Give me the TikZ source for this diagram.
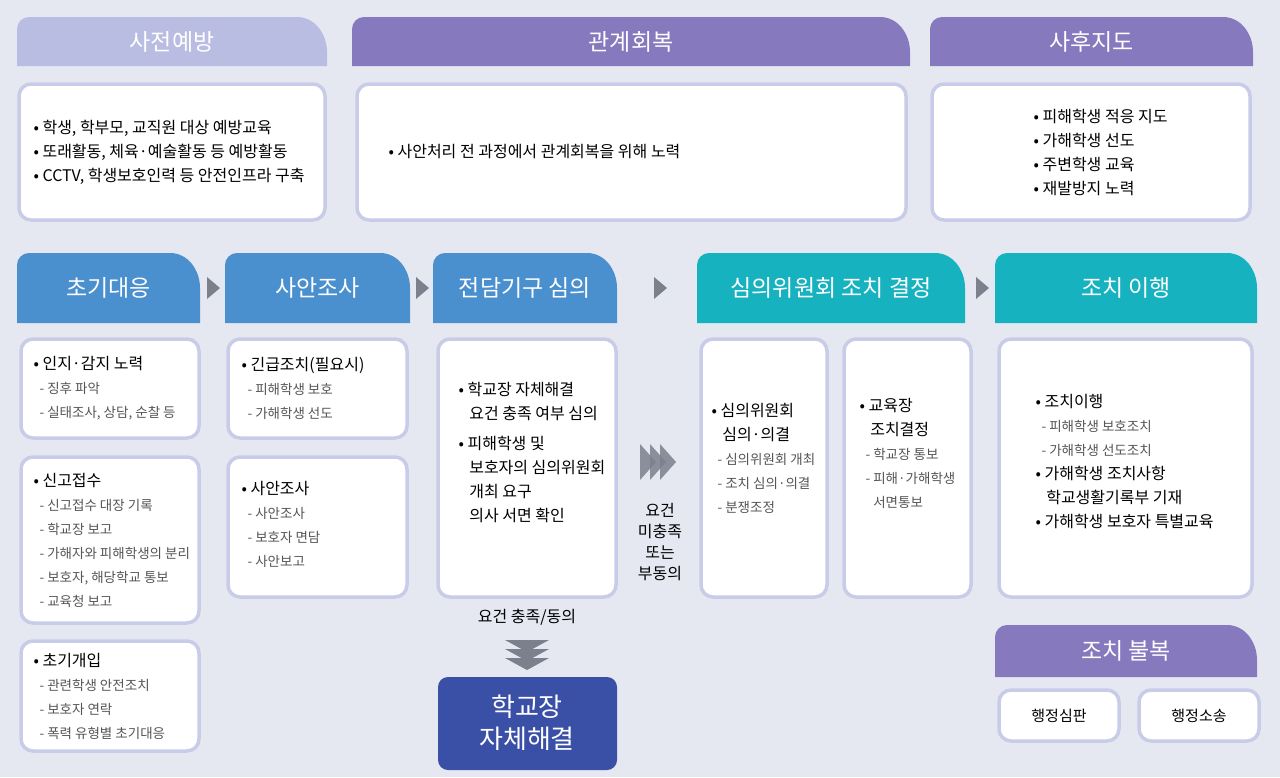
\documentclass[tikz,border=0pt]{standalone}
\usepackage{fontspec}
\setmainfont{Noto Sans CJK KR}
\newfontfamily\kr{Noto Sans CJK KR}
\definecolor{bgc}{HTML}{E6E8F1}
\definecolor{edgec}{HTML}{C9CCE8}
\definecolor{lav}{HTML}{B9BDE2}
\definecolor{purp}{HTML}{8679BD}
\definecolor{bluec}{HTML}{4A8FCE}
\definecolor{tealc}{HTML}{16B2BF}
\definecolor{navy}{HTML}{3A4FA6}
\definecolor{arrc}{HTML}{7C7F8C}
\definecolor{subc}{HTML}{555555}
\newcommand{\sub}[1]{{\fontsize{13.5}{20}\selectfont\color{subc}\ \ - #1}}
\newcommand{\tabbox}[6]{% x1 y1 x2 y2 colour text
  \fill[#5] (#1,#4) -- (#1,#2+12) to[out=90,in=180] (#1+12,#2) -- (#3-30,#2)
    to[out=0,in=90] (#3,#2+35) -- (#3,#4) -- cycle;
  \node[tabtext] at ({(#1+#3)/2},{(#2+#4)/2}) {#6};}
\tikzset{
  box/.style={draw=edgec, line width=3.5pt, fill=white, rounded corners=12pt},
  tabtext/.style={text=white, font=\fontsize{23}{26}\selectfont},
  body/.style={anchor=west, align=left, font=\fontsize{16}{24}\selectfont, text=black},
  play/.style={fill=arrc}
}
\begin{document}
\begin{tikzpicture}[x=1pt,y=-1pt]
\useasboundingbox (0,0) rectangle (1280,777);
\fill[bgc] (0,0) rectangle (1280,777);
% top row
\tabbox{17}{17}{327}{66}{lav}{사전예방}
\tabbox{352}{17}{910}{66}{purp}{관계회복}
\tabbox{930}{17}{1253}{66}{purp}{사후지도}
\draw[box] (19,84) rectangle (325,220);
\node[body] (prev) at (30,152) {• 학생, 학부모, 교직원 대상 예방교육\\• 또래활동, 체육·예술활동 등 예방활동\\• CCTV, 학생보호인력 등 안전인프라 구축};
\draw[box] (357,84) rectangle (906,220);
\node[body] (rest) at (385,152) {• 사안처리 전 과정에서 관계회복을 위해 노력};
\draw[box] (932,84) rectangle (1250,220);
\node[body] (post) at (1030,152) {• 피해학생 적응 지도\\• 가해학생 선도\\• 주변학생 교육\\• 재발방지 노력};
% second row tabs
\tabbox{17}{253}{200}{323}{bluec}{초기대응}
\tabbox{225}{253}{410}{323}{bluec}{사안조사}
\tabbox{433}{253}{617}{323}{bluec}{전담기구 심의}
\tabbox{697}{253}{965}{323}{tealc}{심의위원회 조치 결정}
\tabbox{995}{253}{1257}{323}{tealc}{조치 이행}
\foreach \ax in {213,422,660,982}
  \fill[play] (\ax-6,277) -- (\ax+7,288) -- (\ax-6,299) -- cycle;
% initial response
\draw[box] (21,339) rectangle (199,438);
\node[body] (init1) at (30,388) {• 인지·감지 노력\\\sub{징후 파악}\\\sub{실태조사, 상담, 순찰 등}};
\draw[box] (21,457) rectangle (199,623);
\node[body] (init2) at (30,540) {• 신고접수\\\sub{신고접수 대장 기록}\\\sub{학교장 보고}\\\sub{가해자와 피해학생의 분리}\\\sub{보호자, 해당학교 통보}\\\sub{교육청 보고}};
\draw[box] (21,641) rectangle (199,751);
\node[body] (init3) at (30,696) {• 초기개입\\\sub{관련학생 안전조치}\\\sub{보호자 연락}\\\sub{폭력 유형별 초기대응}};
% investigation
\draw[box] (228,339) rectangle (407,438);
\node[body] (inv1) at (238,388) {• 긴급조치(필요시)\\\sub{피해학생 보호}\\\sub{가해학생 선도}};
\draw[box] (228,457) rectangle (407,597);
\node[body] (inv2) at (238,524) {• 사안조사\\\sub{사안조사}\\\sub{보호자 면담}\\\sub{사안보고}};
% committee
\draw[box] (438,339) rectangle (616,597);
\node[body] (comm) at (455,452) {• 학교장 자체해결\\\ \ \ 요건 충족 여부 심의\\[6pt]• 피해학생 및\\\ \ \ 보호자의 심의위원회\\\ \ \ 개최 요구\\\ \ \ 의사 서면 확인};
\foreach \ax in {0,10,20}
  \fill[play, opacity=.85] (640+\ax,444) -- (656+\ax,462) -- (640+\ax,480) -- cycle;
\node[font=\fontsize{16}{21}\selectfont, align=center] (fail) at (660,542) {요건\\미충족\\또는\\부동의};
\node[font=\fontsize{16}{20}\selectfont] (ok) at (527,617) {요건 충족/동의};
\foreach \ay in {0,9,18}
  \fill[play] (505,640+\ay) -- (549,640+\ay) -- (527,652+\ay) -- cycle;
\fill[navy, rounded corners=10pt] (438,677) rectangle (617,770);
\node[text=white, font=\fontsize{26}{32}\selectfont, align=center] (self) at (527,723) {학교장\\자체해결};
% decision
\draw[box] (701,339) rectangle (827,597);
\node[body] (dec1) at (708,458) {• 심의위원회\\\ \ \ 심의·의결\\\sub{심의위원회 개최}\\\sub{조치 심의·의결}\\\sub{분쟁조정}};
\draw[box] (844,339) rectangle (971,597);
\node[body] (dec2) at (856,453) {• 교육장\\\ \ \ 조치결정\\\sub{학교장 통보}\\\sub{피해·가해학생}\\\ \ \ {\fontsize{13.5}{20}\selectfont\color{subc}\ 서면통보}};
% execution
\draw[box] (999,339) rectangle (1252,597);
\node[body] (exe) at (1032,461) {• 조치이행\\\sub{피해학생 보호조치}\\\sub{가해학생 선도조치}\\• 가해학생 조치사항\\\ \ \ 학교생활기록부 기재\\• 가해학생 보호자 특별교육};
% appeal
\tabbox{995}{625}{1257}{677}{purp}{조치 불복}
\draw[box] (999,690) rectangle (1119,741);
\node[font=\fontsize{15}{20}\selectfont] (adm1) at (1059,716) {행정심판};
\draw[box] (1139,690) rectangle (1259,741);
\node[font=\fontsize{15}{20}\selectfont] (adm2) at (1199,716) {행정소송};
\end{tikzpicture}
\end{document}
